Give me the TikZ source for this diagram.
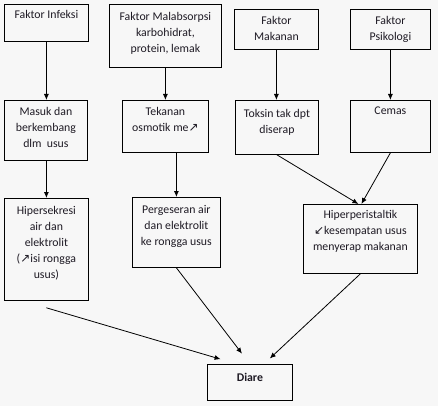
\documentclass[tikz,border=0pt]{standalone}
\usepackage{fontspec}
\setmainfont{Carlito}
\newfontfamily\symf{DejaVu Sans}
\usetikzlibrary{arrows.meta,calc}
\definecolor{bgc}{HTML}{F7F7F7}
\definecolor{txc}{HTML}{1E1A24}
\tikzset{
  box/.style={draw=black, line width=0.8pt, inner sep=0pt, anchor=north west},
  txt/.style={inner sep=0pt, anchor=north, align=center, text=txc, font=\fontsize{11.8}{16}\selectfont},
  arr/.style={draw=black, line width=0.8pt, -{Latex[length=6pt,width=5pt]}}
}
\newcommand{\bx}[7]{%
  \node[box, minimum width=#4pt, minimum height=#5pt] (#1) at (#2,#3) {};
  \node[txt] (#1t) at ([yshift=-#6pt]#1.north) {#7};
}
\newcommand{\ar}[1]{{\symf\fontsize{12}{16}\selectfont #1}}
\begin{document}
\begin{tikzpicture}[x=1pt,y=-1pt]
\fill[bgc] (0,0) rectangle (438,406);
\useasboundingbox (0,0) rectangle (438,406);
\bx{inf}{4}{4}{84}{37}{6}{Faktor Infeksi}
\bx{mal}{109}{4}{112}{63}{8}{Faktor Malabsorpsi\\karbohidrat,\\protein, lemak}
\bx{mak}{234}{9}{84}{40}{7}{Faktor\\Makanan}
\bx{psi}{350}{9}{80}{40}{7}{Faktor\\Psikologi}
\bx{mas}{4}{100}{83}{60}{7}{Masuk dan\\berkembang\\dlm\ \ usus}
\bx{tek}{122}{100}{86}{52}{7}{Tekanan\\osmotik me\ar{↗}}
\bx{tok}{235}{100}{83}{54}{9}{Toksin tak dpt\\diserap}
\bx{cem}{350}{100}{80}{52}{7}{Cemas}
\bx{hsk}{4}{198}{84}{102}{8}{Hipersekresi\\air dan\\elektrolit\\(\ar{↗}isi rongga\\usus)}
\bx{per}{132}{197}{88}{70}{8}{Pergeseran air\\dan elektrolit\\ke rongga usus}
\bx{hpp}{303}{204}{114}{69}{6}{Hiperperistaltik\\\ar{↙}kesempatan usus\\menyerap makanan}
\node[box, minimum width=85pt, minimum height=36pt] (dia) at (207,364) {};
\node[txt, font=\fontsize{11.8}{16}\selectfont\bfseries, anchor=center] (diat) at ([yshift=5pt]dia.center) {Diare};
\draw[arr] (inf.south) -- (inf.south |- mas.north);
\draw[arr] (mal.south) -- (mal.south |- tek.north);
\draw[arr] (mak.south) -- (mak.south |- tok.north);
\draw[arr] (psi.south) -- (psi.south |- cem.north);
\draw[arr] (mas.south -| inf.south) -- (inf.south |- hsk.north);
\draw[arr] (tek.south -| per.north) -- (per.north);
\draw[arr] (tok.south) -- ([xshift=-2pt]hpp.north);
\draw[arr] (cem.south) -- ([xshift=1pt]hpp.north);
\draw[arr, shorten >=17pt] ([yshift=-7pt]hsk.south) -- ([xshift=-13pt]dia.north);
\draw[arr, shorten >=13pt] (per.south) -- (dia.north);
\draw[arr, shorten >=8pt] (hpp.south) -- ([xshift=14pt]dia.north);
\end{tikzpicture}
\end{document}
